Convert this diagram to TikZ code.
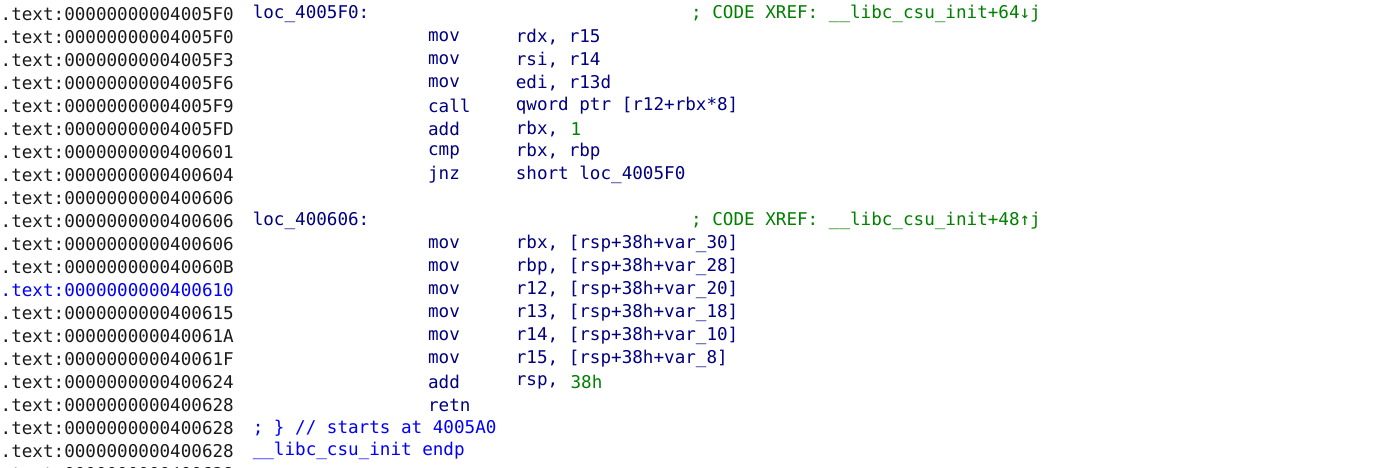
\documentclass[tikz,border=0pt]{standalone}
\usepackage{fontspec}
\setmonofont{DejaVu Sans Mono}
\definecolor{addr}{HTML}{1A1A1A}
\definecolor{navy}{HTML}{000080}
\definecolor{hblue}{HTML}{0000FF}
\definecolor{grn}{HTML}{008000}
\newcommand{\cw}{10.96}
\newcommand{\T}[4]{\node[txt,text=#3] at ({#2*\cw pt+0.5pt},{-(14+#1*23)*1pt}) {#4};}
\begin{document}
\begin{tikzpicture}[x=1pt,y=1pt,txt/.style={anchor=west,inner sep=0pt,font=\ttfamily\fontsize{17.6}{20}\selectfont}]
\useasboundingbox (0,0) rectangle (1376,-467);
\clip (0,0) rectangle (1376,-467);
\T{0}{0}{addr}{.text:00000000004005F0}
\T{0}{23}{navy}{loc\_4005F0:}
\T{0}{63}{grn}{; CODE XREF: \_\_libc\_csu\_init+64↓j}
\T{1}{0}{addr}{.text:00000000004005F0}\T{1}{39}{navy}{mov}\T{1}{47}{navy}{rdx, r15}
\T{2}{0}{addr}{.text:00000000004005F3}\T{2}{39}{navy}{mov}\T{2}{47}{navy}{rsi, r14}
\T{3}{0}{addr}{.text:00000000004005F6}\T{3}{39}{navy}{mov}\T{3}{47}{navy}{edi, r13d}
\T{4}{0}{addr}{.text:00000000004005F9}\T{4}{39}{navy}{call}\T{4}{47}{navy}{qword ptr [r12+rbx*8]}
\T{5}{0}{addr}{.text:00000000004005FD}\T{5}{39}{navy}{add}\T{5}{47}{navy}{rbx,}\T{5}{52}{grn}{1}
\T{6}{0}{addr}{.text:0000000000400601}\T{6}{39}{navy}{cmp}\T{6}{47}{navy}{rbx, rbp}
\T{7}{0}{addr}{.text:0000000000400604}\T{7}{39}{navy}{jnz}\T{7}{47}{navy}{short loc\_4005F0}
\T{8}{0}{addr}{.text:0000000000400606}
\T{9}{0}{addr}{.text:0000000000400606}
\T{9}{23}{navy}{loc\_400606:}
\T{9}{63}{grn}{; CODE XREF: \_\_libc\_csu\_init+48↑j}
\T{10}{0}{addr}{.text:0000000000400606}\T{10}{39}{navy}{mov}\T{10}{47}{navy}{rbx, [rsp+38h+var\_30]}
\T{11}{0}{addr}{.text:000000000040060B}\T{11}{39}{navy}{mov}\T{11}{47}{navy}{rbp, [rsp+38h+var\_28]}
\T{12}{0}{hblue}{.text:0000000000400610}\T{12}{39}{navy}{mov}\T{12}{47}{navy}{r12, [rsp+38h+var\_20]}
\T{13}{0}{addr}{.text:0000000000400615}\T{13}{39}{navy}{mov}\T{13}{47}{navy}{r13, [rsp+38h+var\_18]}
\T{14}{0}{addr}{.text:000000000040061A}\T{14}{39}{navy}{mov}\T{14}{47}{navy}{r14, [rsp+38h+var\_10]}
\T{15}{0}{addr}{.text:000000000040061F}\T{15}{39}{navy}{mov}\T{15}{47}{navy}{r15, [rsp+38h+var\_8]}
\T{16}{0}{addr}{.text:0000000000400624}\T{16}{39}{navy}{add}\T{16}{47}{navy}{rsp,}\T{16}{52}{grn}{38h}
\T{17}{0}{addr}{.text:0000000000400628}\T{17}{39}{navy}{retn}
\T{18}{0}{addr}{.text:0000000000400628}\T{18}{23}{hblue}{; \} // starts at 4005A0}
\T{19}{0}{addr}{.text:0000000000400628}\T{19}{23}{hblue}{\_\_libc\_csu\_init endp}
\T{20}{0}{addr}{.text:0000000000400628}
\end{tikzpicture}
\end{document}
